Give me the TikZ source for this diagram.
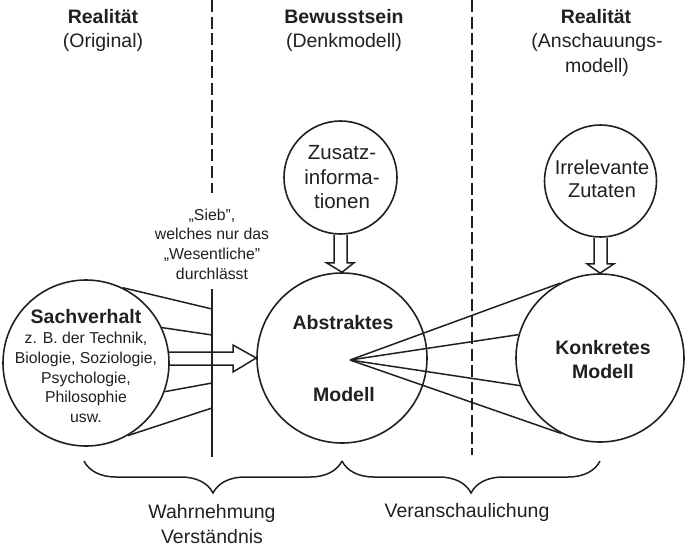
\documentclass[tikz,border=0pt]{standalone}
\usepackage{fontspec}
\setmainfont{Liberation Sans}
\usetikzlibrary{calc,decorations.pathreplacing}
\definecolor{ink}{HTML}{231F20}
\begin{document}
\begin{tikzpicture}[x=1pt,y=-1pt,
  ink/.style={draw=ink, line width=1.6pt},
  circ/.style={ink, circle, inner sep=0pt},
  big/.style={text=ink, font=\fontsize{19.5}{25}\selectfont, align=center, inner sep=0pt},
  bigb/.style={text=ink, font=\fontsize{19.5}{25}\selectfont\bfseries, align=center, inner sep=0pt},
  small/.style={text=ink, font=\fontsize{15.8}{19.7}\selectfont, align=center, inner sep=0pt},
  dashline/.style={ink, line width=1.4pt, dash pattern=on 12pt off 4.6pt},
  fanline/.style={ink, line width=1.5pt},
  bigarrow/.style={ink, line width=1.5pt, line join=miter},
  bracestyle/.style={ink, line width=1.5pt, decorate, decoration={brace, mirror, amplitude=32pt}}
]
\useasboundingbox (0,0) rectangle (685,550);

% titles
\node[bigb] (t1) at (103,17) {Realität};
\node[big] (t1s) at (103,42) {(Original)};
\node[bigb] (t2) at (344,17) {Bewusstsein};
\node[big] (t2s) at (344,42) {(Denkmodell)};
\node[bigb] (t3) at (596,17) {Realität};
\node[big] (t3s) at (597,55) {(Anschauungs-\\modell)};

% dashed separators
\coordinate (d1a) at (212,0);
\coordinate (d1b) at (212,193);
\coordinate (d2a) at (472,0);
\coordinate (d2b) at (472,455);
\draw[dashline] (d1a) -- (d1b);
\draw[dashline] (d2a) -- (d2b);

% sieve
\coordinate (s1) at (212,289);
\coordinate (s2) at (212,457);
\draw[ink] (s1) -- (s2);
\node[small] (siebtxt) at (212,244) {„Sieb”,\\welches nur das\\„Wesentliche”\\durchlässt};

% circles
\node[circ, minimum size=166pt] (sach) at (86,363) {};
\node[circ, minimum size=170pt] (abs) at (342,358) {};
\node[circ, minimum size=168pt] (konk) at (600,358) {};
\node[circ, minimum size=113pt] (zus) at (340.5,177.5) {};
\node[circ, minimum size=112pt] (irr) at (600.5,181) {};

% texts in circles
\node[bigb] (sacht) at (86,317) {Sachverhalt};
\node[small] (sachs) at (86,377.5) {z. B. der Technik,\\Biologie, Soziologie,\\Psychologie,\\Philosophie\\usw.};
\node[bigb] (abst1) at (343,323) {Abstraktes};
\node[bigb] (abst2) at (344,395) {Modell};
\node[bigb, font=\fontsize{19.5}{24}\selectfont\bfseries] (konkt) at (603,360) {Konkretes\\Modell};
\node[big, font=\fontsize{20.5}{24.5}\selectfont] (zust) at (342,177.5) {Zusatz-\\informa-\\tionen};
\node[big, font=\fontsize{20}{23}\selectfont] (irrt) at (602,178.5) {Irrelevante\\Zutaten};

% fan sach -> sieve
\coordinate (f1) at (212,309);
\coordinate (f2) at (212,335);
\coordinate (f3) at (212,383);
\coordinate (f4) at (212,408);
\draw[fanline] (sach.64) -- (f1);
\draw[fanline] (sach.25) -- (f2);
\draw[fanline] (sach.-20) -- (f3);
\draw[fanline] (sach.-60) -- (f4);

% fan abstract -> konkret
\coordinate (apex) at (350,360);
\draw[fanline] (apex) -- (konk.118);
\draw[fanline] (apex) -- (konk.164);
\draw[fanline] (apex) -- (konk.199);
\draw[fanline] (apex) -- (konk.243);

% horizontal big arrow sach -> abs
\draw[bigarrow] ($(sach.east)+(-1,-11)$) -- (233,352) -- (233,345) -- (abs.west) -- (233,372) -- (233,365) -- ($(sach.east)+(-1,2)$);

% vertical arrows
\draw[bigarrow] ($(zus.south)+(-6.5,0)$) -- ($(zus.south)+(-6.5,28)$) -- ($(zus.south)+(-14,28)$) -- (abs.north) -- ($(zus.south)+(13.5,28)$) -- ($(zus.south)+(6.5,28)$) -- ($(zus.south)+(6.5,0)$);
\draw[bigarrow] ($(irr.south)+(-6.5,0)$) -- ($(irr.south)+(-6.5,26)$) -- ($(irr.south)+(-13.5,26)$) -- (konk.north) -- ($(irr.south)+(13.5,26)$) -- ($(irr.south)+(6.5,26)$) -- ($(irr.south)+(6.5,0)$);

% braces
\coordinate (b1) at (84,461);
\coordinate (b2) at (342,461);
\coordinate (b3) at (600,461);
\draw[bracestyle] (b1) -- (b2);
\draw[bracestyle] (b2) -- (b3);
\node[big] (wahr) at (212,524.5) {Wahrnehmung\\Verständnis};
\node[big] (veran) at (467,512) {Veranschaulichung};
\end{tikzpicture}
\end{document}
